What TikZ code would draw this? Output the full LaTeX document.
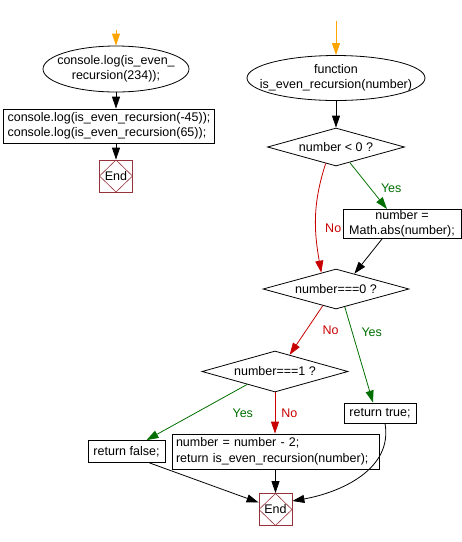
\documentclass[tikz,border=0pt]{standalone}
\usepackage{fontspec}
\setmainfont{Liberation Sans}
\usetikzlibrary{shapes,arrows,arrows.meta,calc}
\definecolor{flowgreen}{RGB}{0,110,0}
\definecolor{flowred}{RGB}{200,0,0}
\definecolor{flowend}{RGB}{150,50,60}
\definecolor{flowstart}{RGB}{255,165,0}
\tikzstyle{line}=[draw,line width=0.8pt,-{Triangle[length=12pt,width=8pt]}]
\tikzstyle{startline}=[line,draw=flowstart]
\tikzstyle{yesline}=[line,draw=flowgreen]
\tikzstyle{noline}=[line,draw=flowred]
\tikzstyle{yeslbl}=[text=flowgreen,inner sep=0pt]
\tikzstyle{nolbl}=[text=flowred,inner sep=0pt]
\tikzstyle{term}=[ellipse,draw,line width=0.8pt,align=center,inner xsep=-30pt,inner ysep=-10pt]
\tikzstyle{stmt}=[rectangle,draw,line width=0.8pt,align=center,inner xsep=4pt,inner ysep=1pt]
\tikzstyle{decide}=[diamond,draw,line width=0.8pt,aspect=3.6,inner sep=0pt]
\tikzstyle{stopbox}=[rectangle,draw=flowend,line width=0.8pt,minimum width=33pt,minimum height=32pt,inner sep=0pt,
  path picture={\draw[flowend,line width=0.6pt] (path picture bounding box.north) -- (path picture bounding box.east)
    -- (path picture bounding box.south) -- (path picture bounding box.west) -- cycle;}]

\begin{document}
\begin{tikzpicture}[x=1pt,y=1pt,font=\fontsize{12.5}{15.5}\selectfont]
  \useasboundingbox (0,0) rectangle (462,-542);
  % caller
  \coordinate (lstart) at (116,-30);
  \node [term, below of=lstart, node distance=39pt, minimum width=146pt, minimum height=46pt] (lcall) {console.log(is\_even\_\\recursion(234));};
  \node [stmt, below of=lcall, node distance=57pt, xshift=-7pt, minimum width=210pt, minimum height=34pt, align=left] (lbox) {console.log(is\_even\_recursion(-45));\\console.log(is\_even\_recursion(65));};
  \node [stopbox, below of=lbox, node distance=50pt, xshift=7pt] (lend) {End};
  \draw [startline] (lstart) -- (lcall);
  \draw [line] (lcall) -- (lcall |- lbox.north);
  \draw [line] (lend |- lbox.south) -- (lend);

  % function
  \coordinate (rstart) at (336,-21);
  \node [term, below of=rstart, node distance=57pt, minimum width=178pt, minimum height=45pt] (func) {function\\is\_even\_recursion(number)};
  \node [decide, below of=func, node distance=69pt, minimum width=137pt, minimum height=38pt] (neg) {number < 0 ?};
  \node [stmt, below of=neg, node distance=77pt, xshift=66pt, minimum width=118pt, minimum height=28pt] (abs) {number =\\Math.abs(number);};
  \node [decide, below of=neg, node distance=142pt, minimum width=146pt, minimum height=40pt] (zero) {number===0 ?};
  \node [decide, below of=zero, node distance=82.5pt, xshift=-61pt, minimum width=146pt, minimum height=41pt] (one) {number===1 ?};
  \node [stmt, below of=zero, node distance=124pt, xshift=44pt, minimum width=72pt, minimum height=20pt] (rtrue) {return true;};
  \node [stmt, below of=one, node distance=80pt, xshift=0.5pt, text width=199pt, align=left, minimum height=35pt] (step) {number = number - 2;\\return is\_even\_recursion(number);};
  \node [stmt, left of=step, node distance=149pt, minimum width=77pt, minimum height=22pt] (rfalse) {return false;};
  \node [stopbox, below of=step, node distance=58pt] (rend) {End};

  \draw [startline] (rstart) -- (func);
  \draw [line] (func) -- (neg);
  \draw [yesline] ($(neg.south)!0.2!(neg.east)$) -- node [yeslbl, pos=0.56, right=10pt] (yes1) {Yes} ([xshift=-15pt]abs.north);
  \draw [noline] ($(neg.south)!0.15!(neg.west)$) to [out=-108,in=100] node [nolbl, pos=0.6, right=9pt] (no1) {No} ($(zero.north)!0.2!(zero.west)$);
  \draw [line] ([xshift=-20pt]abs.south) -- ($(zero.north)!0.25!(zero.east)$);
  \draw [noline] ($(zero.south)!0.18!(zero.west)$) -- node [nolbl, right=16pt] (no2) {No} ($(one.north)!0.2!(one.east)$);
  \draw [yesline] ($(zero.south)!0.12!(zero.east)$) -- node [yeslbl, pos=0.26, right=9pt] (yes2) {Yes} ([xshift=-7pt]rtrue.north);
  \draw [yesline] ($(one.south)!0.38!(one.west)$) -- node [yeslbl, pos=0.52, xshift=48pt] (yes3) {Yes} ([xshift=20pt]rfalse.north);
  \draw [noline] (one.south) -- node [nolbl, right=6pt] (no3) {No} (one.south |- step.north);
  \draw [line] ([xshift=23pt]rfalse.south) -- ([yshift=7pt]rend.west);
  \draw [line] (step) -- (rend);
  \draw [line] ([xshift=5pt]rtrue.south) to [out=-80,in=10] ([yshift=8.5pt]rend.east);
\end{tikzpicture}
\end{document}
